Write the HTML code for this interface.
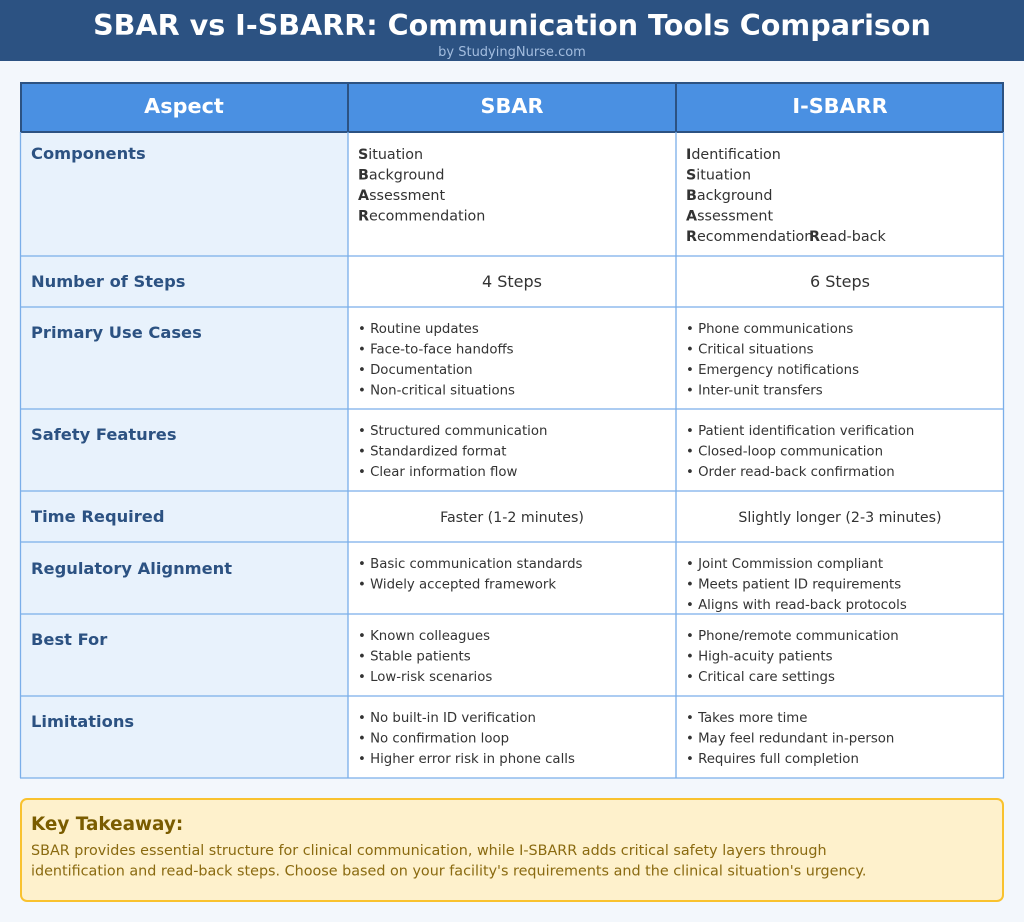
<!DOCTYPE html>
<html><head><meta charset="utf-8"><style>
html,body{margin:0;padding:0;background:#f3f7fc;}
svg{display:block;font-family:"DejaVu Sans","Liberation Sans",sans-serif;}
.lb{font-size:16.3px;font-weight:bold;fill:#2c5282;}
.t{font-size:14.3px;fill:#333;}
.b{font-size:13.3px;fill:#333;}
.c{font-size:14.2px;fill:#333;text-anchor:middle;}
.s{font-size:16px;fill:#333;text-anchor:middle;}
</style></head><body>
<svg width="1024" height="922" viewBox="0 0 1024 922" xmlns="http://www.w3.org/2000/svg">
<rect x="0" y="0" width="1024" height="922" fill="#f3f7fc"/>
<rect x="0" y="0" width="1024" height="61" fill="#2c5282"/>
<text x="512" y="35" text-anchor="middle" font-size="28.6" font-weight="bold" fill="#fff">SBAR vs I-SBARR: Communication Tools Comparison</text>
<text x="512" y="56" text-anchor="middle" font-size="13" fill="#a3bddf">by StudyingNurse.com</text>

<rect x="20" y="132" width="328" height="646" fill="#e8f2fc"/>
<rect x="348" y="132" width="656" height="646" fill="#fff"/>
<rect x="21" y="83" width="982" height="49" fill="#4a90e2"/>
<g stroke="#2c5282" stroke-width="2" fill="none">
<rect x="21" y="83" width="982" height="49"/>
<line x1="348" y1="83" x2="348" y2="132"/><line x1="676" y1="83" x2="676" y2="132"/>
</g>
<g font-size="20.8" font-weight="bold" fill="#fff" text-anchor="middle">
<text x="184" y="113">Aspect</text><text x="512" y="113">SBAR</text><text x="840" y="113">I-SBARR</text>
</g>
<g stroke="#7aaee9" stroke-width="1.3" fill="none">
<line x1="20.5" y1="132" x2="20.5" y2="778"/><line x1="348" y1="132" x2="348" y2="778"/>
<line x1="676" y1="132" x2="676" y2="778"/><line x1="1003.5" y1="132" x2="1003.5" y2="778"/>
<line x1="20" y1="256" x2="1004" y2="256"/><line x1="20" y1="307" x2="1004" y2="307"/>
<line x1="20" y1="409" x2="1004" y2="409"/><line x1="20" y1="491" x2="1004" y2="491"/>
<line x1="20" y1="542" x2="1004" y2="542"/><line x1="20" y1="614" x2="1004" y2="614"/>
<line x1="20" y1="696" x2="1004" y2="696"/><line x1="20" y1="778" x2="1004" y2="778"/>
</g>

<text class="lb" x="31" y="159">Components</text>
<text class="lb" x="31" y="287">Number of Steps</text>
<text class="lb" x="31" y="338">Primary Use Cases</text>
<text class="lb" x="31" y="440">Safety Features</text>
<text class="lb" x="31" y="522">Time Required</text>
<text class="lb" x="31" y="574">Regulatory Alignment</text>
<text class="lb" x="31" y="645">Best For</text>
<text class="lb" x="31" y="727">Limitations</text>

<text class="t" x="358" y="159"><tspan font-weight="bold">S</tspan>ituation</text>
<text class="t" x="358" y="179.5"><tspan font-weight="bold">B</tspan>ackground</text>
<text class="t" x="358" y="200"><tspan font-weight="bold">A</tspan>ssessment</text>
<text class="t" x="358" y="220.5"><tspan font-weight="bold">R</tspan>ecommendation</text>

<text class="t" x="686" y="159"><tspan font-weight="bold">I</tspan>dentification</text>
<text class="t" x="686" y="179.5"><tspan font-weight="bold">S</tspan>ituation</text>
<text class="t" x="686" y="200"><tspan font-weight="bold">B</tspan>ackground</text>
<text class="t" x="686" y="220.5"><tspan font-weight="bold">A</tspan>ssessment</text>
<text class="t" x="686" y="241"><tspan font-weight="bold">R</tspan>ecommendation</text>
<text class="t" x="809" y="241"><tspan font-weight="bold">R</tspan>ead-back</text>

<text class="s" x="512" y="287">4 Steps</text>
<text class="s" x="840" y="287">6 Steps</text>

<text class="b" x="358" y="333">• Routine updates</text>
<text class="b" x="358" y="353.5">• Face-to-face handoffs</text>
<text class="b" x="358" y="374">• Documentation</text>
<text class="b" x="358" y="394.5">• Non-critical situations</text>
<text class="b" x="686" y="333">• Phone communications</text>
<text class="b" x="686" y="353.5">• Critical situations</text>
<text class="b" x="686" y="374">• Emergency notifications</text>
<text class="b" x="686" y="394.5">• Inter-unit transfers</text>

<text class="b" x="358" y="435">• Structured communication</text>
<text class="b" x="358" y="455.5">• Standardized format</text>
<text class="b" x="358" y="476">• Clear information flow</text>
<text class="b" x="686" y="435">• Patient identification verification</text>
<text class="b" x="686" y="455.5">• Closed-loop communication</text>
<text class="b" x="686" y="476">• Order read-back confirmation</text>

<text class="b" x="358" y="568">• Basic communication standards</text>
<text class="b" x="358" y="588.5">• Widely accepted framework</text>
<text class="b" x="686" y="568">• Joint Commission compliant</text>
<text class="b" x="686" y="588.5">• Meets patient ID requirements</text>
<text class="b" x="686" y="609">• Aligns with read-back protocols</text>

<text class="b" x="358" y="640">• Known colleagues</text>
<text class="b" x="358" y="660.5">• Stable patients</text>
<text class="b" x="358" y="681">• Low-risk scenarios</text>
<text class="b" x="686" y="640">• Phone/remote communication</text>
<text class="b" x="686" y="660.5">• High-acuity patients</text>
<text class="b" x="686" y="681">• Critical care settings</text>

<text class="b" x="358" y="722">• No built-in ID verification</text>
<text class="b" x="358" y="742.5">• No confirmation loop</text>
<text class="b" x="358" y="763">• Higher error risk in phone calls</text>
<text class="b" x="686" y="722">• Takes more time</text>
<text class="b" x="686" y="742.5">• May feel redundant in-person</text>
<text class="b" x="686" y="763">• Requires full completion</text>

<text class="c" x="512" y="522">Faster (1-2 minutes)</text>
<text class="c" x="840" y="522">Slightly longer (2-3 minutes)</text>

<rect x="21" y="799" width="982" height="102" rx="6" fill="#fef1cc" stroke="#f9c22e" stroke-width="2"/>
<text x="31" y="830" font-size="18.4" font-weight="bold" fill="#7a5c00">Key Takeaway:</text>
<text x="31" y="855" font-size="14.35" fill="#8a6a10">SBAR provides essential structure for clinical communication, while I-SBARR adds critical safety layers through</text>
<text x="31" y="875.5" font-size="14.35" fill="#8a6a10">identification and read-back steps. Choose based on your facility's requirements and the clinical situation's urgency.</text>
</svg>
</body></html>
